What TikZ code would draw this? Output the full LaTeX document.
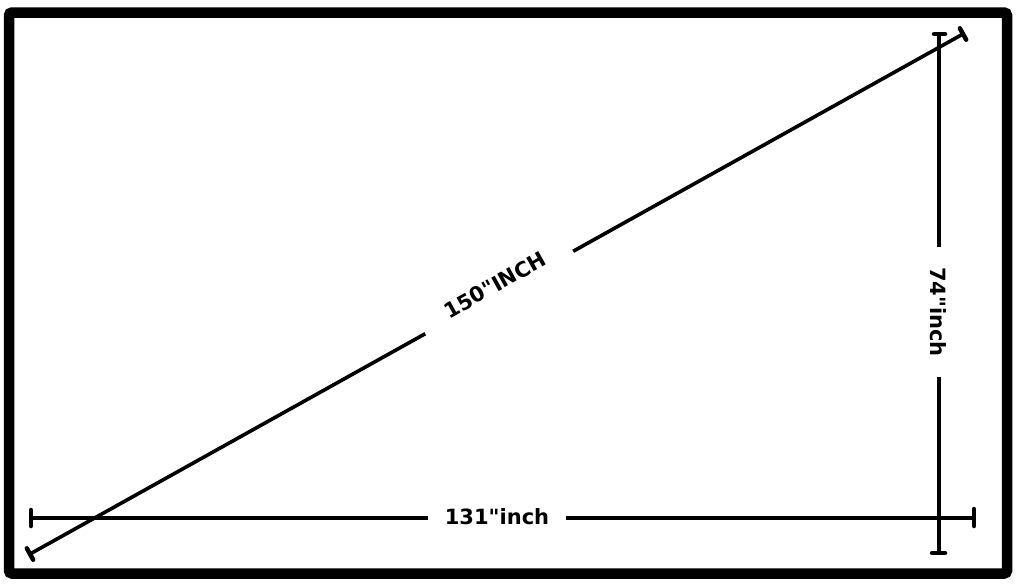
\documentclass[tikz,border=0pt]{standalone}
\usepackage{fontspec}
\setmainfont{DejaVu Sans}
\usetikzlibrary{calc}
\begin{document}
\begin{tikzpicture}[x=1pt,y=-1pt,
  dimline/.style={line width=3.6pt},
  tickline/.style={line width=4.5pt, line cap=round},
  lbl/.style={fill=white, inner ysep=4pt, font=\fontsize{21}{25}\selectfont\bfseries}]
\useasboundingbox (0,0) rectangle (1016,584);
\draw[line width=10.5pt, rounded corners=3pt] (9,12.5) rectangle (1007,573.5);
% diagonal
\coordinate (d1) at (30,554);
\coordinate (d2) at (963,34);
\draw[dimline] (d1) -- (d2);
\draw[tickline] ($(d1)!6.5pt!90:(d2)$) -- ($(d1)!6.5pt!-90:(d2)$);
\draw[tickline] ($(d2)!6.5pt!90:(d1)$) -- ($(d2)!6.5pt!-90:(d1)$);
\node[lbl, inner xsep=28pt, rotate=29.1] (dl) at (495,285) {150\textquotedbl INCH};
% horizontal
\coordinate (h1) at (31,518);
\coordinate (h2) at (974,518);
\draw[dimline] (h1) -- (h2);
\draw[tickline] (31,510) -- (31,526);
\draw[tickline] (974,509) -- (974,526);
\node[lbl, inner xsep=17pt] (hl) at (497,517) {131\textquotedbl inch};
% vertical
\coordinate (v1) at (939,34);
\coordinate (v2) at (939,553);
\draw[dimline] (v1) -- (v2);
\draw[tickline] (934,34) -- (945,34);
\draw[tickline] (932,553) -- (945,553);
\node[lbl, inner xsep=20pt, rotate=-90] (vl) at (938,312) {74\textquotedbl inch};
\end{tikzpicture}
\end{document}
